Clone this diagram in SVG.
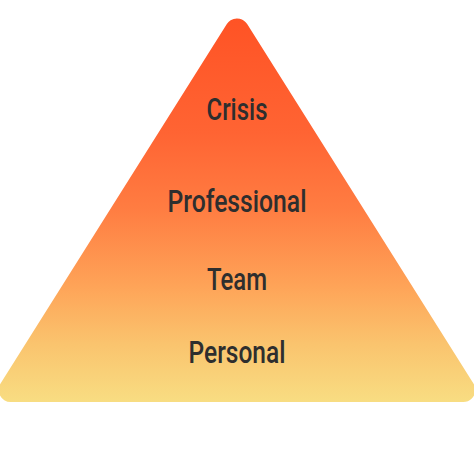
<svg xmlns="http://www.w3.org/2000/svg" width="474" height="457" viewBox="0 0 474 457">
  <defs>
    <linearGradient id="g" gradientUnits="userSpaceOnUse" x1="0" y1="18" x2="0" y2="402">
      <stop offset="0" stop-color="#FF5325"/>
      <stop offset="0.3" stop-color="#FF6433"/>
      <stop offset="0.5" stop-color="#FF7D42"/>
      <stop offset="0.7" stop-color="#FEA458"/>
      <stop offset="0.85" stop-color="#FAC46E"/>
      <stop offset="1" stop-color="#F8DD82"/>
    </linearGradient>
    <style>
      .lbl { font-family: Roboto, "Liberation Sans", sans-serif; font-size: 31px; font-weight: 500; fill: #2e2e2e; text-anchor: middle; }
    </style>
  </defs>
  <rect width="474" height="457" fill="#ffffff"/>
  <g id="pyramid">
    <polygon points="237,30.5 10.7,390 463.3,390" fill="url(#g)" stroke="url(#g)" stroke-width="24" stroke-linejoin="round"/>
  </g>
  <g id="crisis"><text class="lbl" x="237" y="120" textLength="61" lengthAdjust="spacingAndGlyphs">Crisis</text></g>
  <g id="professional"><text class="lbl" x="237" y="212" textLength="139" lengthAdjust="spacingAndGlyphs">Professional</text></g>
  <g id="team"><text class="lbl" x="237" y="290" textLength="60" lengthAdjust="spacingAndGlyphs">Team</text></g>
  <g id="personal"><text class="lbl" x="237" y="363" textLength="97" lengthAdjust="spacingAndGlyphs">Personal</text></g>
  <g id="connectors"></g>
</svg>
